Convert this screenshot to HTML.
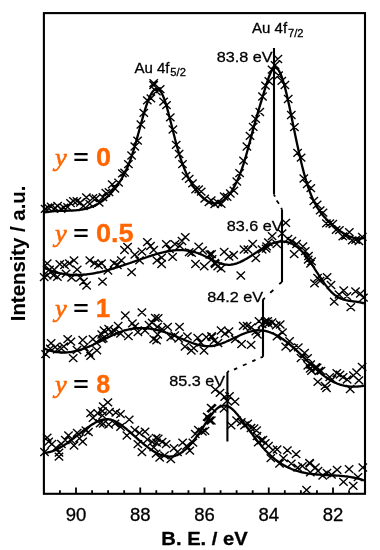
<!DOCTYPE html>
<html><head><meta charset="utf-8"><title>XPS Au 4f</title>
<style>html,body{margin:0;padding:0;background:#fff;width:380px;height:550px;overflow:hidden}svg{display:block}</style>
</head><body>
<svg width="380" height="550" viewBox="0 0 380 550"><path d="M40.9,205.0L49.3,212.8M40.9,212.8L49.3,205.0M43.7,203.6L52.1,211.4M43.7,211.4L52.1,203.6M46.9,202.7L55.3,210.5M46.9,210.5L55.3,202.7M50.8,203.9L59.2,211.7M50.8,211.7L59.2,203.9M53.4,202.1L61.8,209.9M53.4,209.9L61.8,202.1M56.9,205.0L65.3,212.8M56.9,212.8L65.3,205.0M59.7,203.7L68.1,211.5M59.7,211.5L68.1,203.7M63.4,203.2L71.8,211.0M63.4,211.0L71.8,203.2M66.3,199.2L74.7,207.0M66.3,207.0L74.7,199.2M69.2,197.3L77.6,205.1M69.2,205.1L77.6,197.3M72.7,197.2L81.1,205.0M72.7,205.0L81.1,197.2M76.1,198.6L84.5,206.4M76.1,206.4L84.5,198.6M79.1,202.3L87.5,210.1M79.1,210.1L87.5,202.3M82.2,193.5L90.6,201.3M82.2,201.3L90.6,193.5M85.6,200.0L94.0,207.8M85.6,207.8L94.0,200.0M88.7,194.2L97.1,202.0M88.7,202.0L97.1,194.2M91.8,194.4L100.2,202.2M91.8,202.2L100.2,194.4M95.0,198.8L103.4,206.6M95.0,206.6L103.4,198.8M98.7,193.3L107.1,201.1M98.7,201.1L107.1,193.3M101.6,189.0L110.0,196.8M101.6,196.8L110.0,189.0M104.8,188.2L113.2,196.0M104.8,196.0L113.2,188.2M108.0,180.5L116.4,188.3M108.0,188.3L116.4,180.5M110.7,184.8L119.1,192.6M110.7,192.6L119.1,184.8M114.4,178.8L122.8,186.6M114.4,186.6L122.8,178.8M118.2,169.4L126.6,177.2M118.2,177.2L126.6,169.4M120.4,168.8L128.8,176.6M120.4,176.6L128.8,168.8M124.2,160.3L132.6,168.1M124.2,168.1L132.6,160.3M127.4,151.6L135.8,159.4M127.4,159.4L135.8,151.6M130.6,142.6L139.0,150.4M130.6,150.4L139.0,142.6M133.4,136.7L141.8,144.5M133.4,144.5L141.8,136.7M136.7,120.6L145.1,128.4M136.7,128.4L145.1,120.6M139.6,109.0L148.0,116.8M139.6,116.8L148.0,109.0M143.1,96.5L151.5,104.3M143.1,104.3L151.5,96.5M146.7,94.5L155.1,102.3M146.7,102.3L155.1,94.5M149.4,81.3L157.8,89.1M149.4,89.1L157.8,81.3M152.2,87.4L160.6,95.2M152.2,95.2L160.6,87.4M156.0,85.2L164.4,93.0M156.0,93.0L164.4,85.2M159.4,97.7L167.8,105.5M159.4,105.5L167.8,97.7M162.3,101.3L170.7,109.1M162.3,109.1L170.7,101.3M166.1,113.4L174.5,121.2M166.1,121.2L174.5,113.4M168.7,125.6L177.1,133.4M168.7,133.4L177.1,125.6M172.0,140.9L180.4,148.7M172.0,148.7L180.4,140.9M174.9,150.1L183.3,157.9M174.9,157.9L183.3,150.1M178.3,160.2L186.7,168.0M178.3,168.0L186.7,160.2M181.8,172.1L190.2,179.9M181.8,179.9L190.2,172.1M185.0,174.9L193.4,182.7M185.0,182.7L193.4,174.9M188.3,179.5L196.7,187.3M188.3,187.3L196.7,179.5M191.4,185.4L199.8,193.2M191.4,193.2L199.8,185.4M194.5,185.4L202.9,193.2M194.5,193.2L202.9,185.4M197.0,187.7L205.4,195.5M197.0,195.5L205.4,187.7M200.5,194.7L208.9,202.5M200.5,202.5L208.9,194.7M204.7,198.2L213.1,206.0M204.7,206.0L213.1,198.2M207.0,196.4L215.4,204.2M207.0,204.2L215.4,196.4M210.5,200.1L218.9,207.9M210.5,207.9L218.9,200.1M213.5,198.6L221.9,206.4M213.5,206.4L221.9,198.6M217.0,200.0L225.4,207.8M217.0,207.8L225.4,200.0M220.0,192.6L228.4,200.4M220.0,200.4L228.4,192.6M222.9,192.9L231.3,200.7M222.9,200.7L231.3,192.9M226.1,189.6L234.5,197.4M226.1,197.4L234.5,189.6M229.7,186.7L238.1,194.5M229.7,194.5L238.1,186.7M232.6,177.6L241.0,185.4M232.6,185.4L241.0,177.6M235.4,169.3L243.8,177.1M235.4,177.1L243.8,169.3M239.3,156.8L247.7,164.6M239.3,164.6L247.7,156.8M242.7,142.6L251.1,150.4M242.7,150.4L251.1,142.6M245.8,131.9L254.2,139.7M245.8,139.7L254.2,131.9M249.0,123.0L257.4,130.8M249.0,130.8L257.4,123.0M251.5,115.0L259.9,122.8M251.5,122.8L259.9,115.0M255.6,108.1L264.0,115.9M255.6,115.9L264.0,108.1M258.3,92.6L266.7,100.4M258.3,100.4L266.7,92.6M261.3,81.7L269.7,89.5M261.3,89.5L269.7,81.7M264.6,77.2L273.0,85.0M264.6,85.0L273.0,77.2M267.8,65.8L276.2,73.6M267.8,73.6L276.2,65.8M270.8,61.3L279.2,69.1M270.8,69.1L279.2,61.3M274.4,71.4L282.8,79.2M274.4,79.2L282.8,71.4M277.6,77.0L286.0,84.8M277.6,84.8L286.0,77.0M280.7,81.1L289.1,88.9M280.7,88.9L289.1,81.1M284.0,95.1L292.4,102.9M284.0,102.9L292.4,95.1M287.1,111.1L295.5,118.9M287.1,118.9L295.5,111.1M290.2,123.2L298.6,131.0M290.2,131.0L298.6,123.2M293.4,149.0L301.8,156.8M293.4,156.8L301.8,149.0M296.9,153.8L305.3,161.6M296.9,161.6L305.3,153.8M299.6,174.6L308.0,182.4M299.6,182.4L308.0,174.6M303.0,180.2L311.4,188.0M303.0,188.0L311.4,180.2M306.6,184.3L315.0,192.1M306.6,192.1L315.0,184.3M309.6,197.1L318.0,204.9M309.6,204.9L318.0,197.1M312.9,200.8L321.3,208.6M312.9,208.6L321.3,200.8M316.0,206.4L324.4,214.2M316.0,214.2L324.4,206.4M318.8,208.7L327.2,216.5M318.8,216.5L327.2,208.7M322.2,219.4L330.6,227.2M322.2,227.2L330.6,219.4M325.6,219.4L334.0,227.2M325.6,227.2L334.0,219.4M328.6,220.1L337.0,227.9M328.6,227.9L337.0,220.1M331.9,226.0L340.3,233.8M331.9,233.8L340.3,226.0M335.2,226.2L343.6,234.0M335.2,234.0L343.6,226.2M338.6,232.4L347.0,240.2M338.6,240.2L347.0,232.4M341.4,231.9L349.8,239.7M341.4,239.7L349.8,231.9M345.1,228.2L353.5,236.0M345.1,236.0L353.5,228.2M348.0,236.4L356.4,244.2M348.0,244.2L356.4,236.4M351.4,235.9L359.8,243.7M351.4,243.7L359.8,235.9M354.7,237.1L363.1,244.9M354.7,244.9L363.1,237.1M358.1,233.0L366.5,240.8M358.1,240.8L366.5,233.0M273.7,55.1L282.1,62.9M273.7,62.9L282.1,55.1M149.5,79.3L157.9,87.1M149.5,87.1L157.9,79.3M43.0,259.5L51.4,267.3M43.0,267.3L51.4,259.5M45.3,265.8L53.7,273.6M45.3,273.6L53.7,265.8M43.0,271.4L51.4,279.2M43.0,279.2L51.4,271.4M50.1,265.8L58.5,273.6M50.1,273.6L58.5,265.8M49.3,271.4L57.7,279.2M49.3,279.2L57.7,271.4M53.2,273.0L61.6,280.8M53.2,280.8L61.6,273.0M55.6,260.3L64.0,268.1M55.6,268.1L64.0,260.3M60.3,261.1L68.7,268.9M60.3,268.9L68.7,261.1M65.1,259.5L73.5,267.3M65.1,267.3L73.5,259.5M69.8,256.4L78.2,264.2M69.8,264.2L78.2,256.4M61.9,269.8L70.3,277.6M61.9,277.6L70.3,269.8M67.4,273.7L75.8,281.5M67.4,281.5L75.8,273.7M73.0,265.8L81.4,273.6M73.0,273.6L81.4,265.8M76.1,273.7L84.5,281.5M76.1,281.5L84.5,273.7M79.3,277.7L87.7,285.5M79.3,285.5L87.7,277.7M82.4,281.6L90.8,289.4M82.4,289.4L90.8,281.6M85.6,256.4L94.0,264.2M85.6,264.2L94.0,256.4M90.3,259.5L98.7,267.3M90.3,267.3L98.7,259.5M94.3,261.1L102.7,268.9M94.3,268.9L102.7,261.1M98.3,277.7L106.7,285.5M98.3,285.5L106.7,277.7M40.0,273.2L48.4,281.0M40.0,281.0L48.4,273.2M97.4,259.5L105.8,267.3M97.4,267.3L105.8,259.5M103.7,266.6L112.1,274.4M103.7,274.4L112.1,266.6M110.0,259.5L118.4,267.3M110.0,267.3L118.4,259.5M113.2,261.1L121.6,268.9M113.2,268.9L121.6,261.1M117.1,256.4L125.5,264.2M117.1,264.2L125.5,256.4M120.3,246.1L128.7,253.9M120.3,253.9L128.7,246.1M123.4,242.9L131.8,250.7M123.4,250.7L131.8,242.9M127.4,268.2L135.8,276.0M127.4,276.0L135.8,268.2M130.6,250.8L139.0,258.6M130.6,258.6L139.0,250.8M135.3,256.4L143.7,264.2M135.3,264.2L143.7,256.4M137.7,247.7L146.1,255.5M137.7,255.5L146.1,247.7M143.2,238.2L151.6,246.0M143.2,246.0L151.6,238.2M146.3,242.1L154.7,249.9M146.3,249.9L154.7,242.1M149.5,246.1L157.9,253.9M149.5,253.9L157.9,246.1M152.7,256.4L161.1,264.2M152.7,264.2L161.1,256.4M157.4,253.7L165.8,261.5M157.4,261.5L165.8,253.7M157.4,260.1L165.8,267.9M157.4,267.9L165.8,260.1M162.1,240.3L170.5,248.1M162.1,248.1L170.5,240.3M165.3,245.1L173.7,252.9M165.3,252.9L173.7,245.1M170.8,240.3L179.2,248.1M170.8,248.1L179.2,240.3M168.4,253.0L176.8,260.8M168.4,260.8L176.8,253.0M175.5,241.9L183.9,249.7M175.5,249.7L183.9,241.9M177.8,237.1L186.2,244.9M177.8,244.9L186.2,237.1M181.1,233.2L189.5,241.0M181.1,241.0L189.5,233.2M185.0,248.2L193.4,256.0M185.0,256.0L193.4,248.2M187.4,249.0L195.8,256.8M187.4,256.8L195.8,249.0M194.5,242.7L202.9,250.5M194.5,250.5L202.9,242.7M191.3,260.1L199.7,267.9M191.3,267.9L199.7,260.1M198.4,246.6L206.8,254.4M198.4,254.4L206.8,246.6M200.0,262.4L208.4,270.2M200.0,270.2L208.4,262.4M205.6,250.6L214.0,258.4M205.6,258.4L214.0,250.6M207.9,255.3L216.3,263.1M207.9,263.1L216.3,255.3M211.1,260.1L219.5,267.9M211.1,267.9L219.5,260.1M213.5,262.4L221.9,270.2M213.5,270.2L221.9,262.4M207.4,250.3L215.8,258.1M207.4,258.1L215.8,250.3M210.5,259.0L218.9,266.8M210.5,266.8L218.9,259.0M216.9,264.5L225.3,272.3M216.9,272.3L225.3,264.5M220.0,247.9L228.4,255.7M220.0,255.7L228.4,247.9M224.8,252.7L233.2,260.5M224.8,260.5L233.2,252.7M229.5,251.1L237.9,258.9M229.5,258.9L237.9,251.1M236.6,271.6L245.0,279.4M236.6,279.4L245.0,271.6M239.8,245.6L248.2,253.4M239.8,253.4L248.2,245.6M243.7,245.6L252.1,253.4M243.7,253.4L252.1,245.6M248.5,240.1L256.9,247.9M248.5,247.9L256.9,240.1M251.6,254.3L260.0,262.1M251.6,262.1L260.0,254.3M257.9,245.6L266.3,253.4M257.9,253.4L266.3,245.6M261.9,244.8L270.3,252.6M261.9,252.6L270.3,244.8M264.2,238.5L272.6,246.3M264.2,246.3L272.6,238.5M262.4,242.4L270.8,250.2M262.4,250.2L270.8,242.4M267.9,232.2L276.3,240.0M267.9,240.0L276.3,232.2M272.6,240.1L281.0,247.9M272.6,247.9L281.0,240.1M281.6,219.0L290.0,226.8M281.6,226.8L290.0,219.0M277.9,229.5L286.3,237.3M277.9,237.3L286.3,229.5M283.8,235.1L292.2,242.9M283.8,242.9L292.2,235.1M287.7,236.9L296.1,244.7M287.7,244.7L296.1,236.9M290.0,250.3L298.4,258.1M290.0,258.1L298.4,250.3M292.4,240.1L300.8,247.9M292.4,247.9L300.8,240.1M298.7,242.4L307.1,250.2M298.7,250.2L307.1,242.4M301.1,247.2L309.5,255.0M301.1,255.0L309.5,247.2M304.3,252.1L312.7,259.9M304.3,259.9L312.7,252.1M307.4,257.4L315.8,265.2M307.4,265.2L315.8,257.4M304.0,255.8L312.4,263.6M304.0,263.6L312.4,255.8M306.3,259.8L314.7,267.6M306.3,267.6L314.7,259.8M313.4,274.0L321.8,281.8M313.4,281.8L321.8,274.0M310.3,279.5L318.7,287.3M310.3,287.3L318.7,279.5M315.8,277.1L324.2,284.9M315.8,284.9L324.2,277.1M322.9,273.2L331.3,281.0M322.9,281.0L331.3,273.2M326.8,281.1L335.2,288.9M326.8,288.9L335.2,281.1M330.0,297.7L338.4,305.5M330.0,305.5L338.4,297.7M334.8,290.6L343.2,298.4M334.8,298.4L343.2,290.6M339.5,286.6L347.9,294.4M339.5,294.4L347.9,286.6M342.7,292.2L351.1,300.0M342.7,300.0L351.1,292.2M346.6,303.2L355.0,311.0M346.6,311.0L355.0,303.2M351.3,287.4L359.7,295.2M351.3,295.2L359.7,287.4M356.1,289.8L364.5,297.6M356.1,297.6L364.5,289.8M359.3,293.7L367.7,301.5M359.3,301.5L367.7,293.7M41.4,350.3L49.8,358.1M41.4,358.1L49.8,350.3M46.9,339.3L55.3,347.1M46.9,347.1L55.3,339.3M46.1,344.8L54.5,352.6M46.1,352.6L54.5,344.8M50.9,343.2L59.3,351.0M50.9,351.0L59.3,343.2M53.2,345.6L61.6,353.4M53.2,353.4L61.6,345.6M57.2,344.8L65.6,352.6M57.2,352.6L65.6,344.8M59.5,342.4L67.9,350.2M59.5,350.2L67.9,342.4M63.5,335.3L71.9,343.1M63.5,343.1L71.9,335.3M66.7,337.7L75.1,345.5M66.7,345.5L75.1,337.7M69.0,354.3L77.4,362.1M69.0,362.1L77.4,354.3M78.5,336.1L86.9,343.9M78.5,343.9L86.9,336.1M80.1,343.2L88.5,351.0M80.1,351.0L88.5,343.2M84.8,348.7L93.2,356.5M84.8,356.5L93.2,348.7M86.4,351.9L94.8,359.7M86.4,359.7L94.8,351.9M88.8,335.3L97.2,343.1M88.8,343.1L97.2,335.3M91.9,338.5L100.3,346.3M91.9,346.3L100.3,338.5M92.7,346.4L101.1,354.2M92.7,354.2L101.1,346.4M97.5,330.6L105.9,338.4M97.5,338.4L105.9,330.6M99.0,334.5L107.4,342.3M99.0,342.3L107.4,334.5M72.8,346.1L81.2,353.9M72.8,353.9L81.2,346.1M97.4,335.3L105.8,343.1M97.4,343.1L105.8,335.3M99.8,326.6L108.2,334.4M99.8,334.4L108.2,326.6M104.5,325.1L112.9,332.9M104.5,332.9L112.9,325.1M106.9,328.2L115.3,336.0M106.9,336.0L115.3,328.2M110.3,327.1L118.7,334.9M110.3,334.9L118.7,327.1M114.0,321.9L122.4,329.7M114.0,329.7L122.4,321.9M116.3,329.8L124.7,337.6M116.3,337.6L124.7,329.8M121.1,311.6L129.5,319.4M121.1,319.4L129.5,311.6M124.2,332.2L132.6,340.0M124.2,340.0L132.6,332.2M128.2,319.5L136.6,327.3M128.2,327.3L136.6,319.5M130.6,322.7L139.0,330.5M130.6,330.5L139.0,322.7M133.7,328.2L142.1,336.0M133.7,336.0L142.1,328.2M137.7,308.5L146.1,316.3M137.7,316.3L146.1,308.5M140.8,326.6L149.2,334.4M140.8,334.4L149.2,326.6M144.8,321.1L153.2,328.9M144.8,328.9L153.2,321.1M147.9,318.7L156.3,326.5M147.9,326.5L156.3,318.7M151.1,314.0L159.5,321.8M151.1,321.8L159.5,314.0M149.5,335.3L157.9,343.1M149.5,343.1L157.9,335.3M153.5,330.6L161.9,338.4M153.5,338.4L161.9,330.6M154.0,314.3L162.4,322.1M154.0,322.1L162.4,314.3M153.2,322.9L161.6,330.7M153.2,330.7L161.6,322.9M157.9,325.3L166.3,333.1M157.9,333.1L166.3,325.3M163.4,322.9L171.8,330.7M163.4,330.7L171.8,322.9M152.4,336.4L160.8,344.2M152.4,344.2L160.8,336.4M166.6,333.2L175.0,341.0M166.6,341.0L175.0,333.2M170.5,331.6L178.9,339.4M170.5,339.4L178.9,331.6M175.3,322.9L183.7,330.7M175.3,330.7L183.7,322.9M174.5,334.8L182.9,342.6M174.5,342.6L182.9,334.8M183.2,332.4L191.6,340.2M183.2,340.2L191.6,332.4M180.8,342.7L189.2,350.5M180.8,350.5L189.2,342.7M187.1,346.6L195.5,354.4M187.1,354.4L195.5,346.6M189.5,344.3L197.9,352.1M189.5,352.1L197.9,344.3M193.5,334.0L201.9,341.8M193.5,341.8L201.9,334.0M196.6,338.7L205.0,346.5M196.6,346.5L205.0,338.7M199.8,346.6L208.2,354.4M199.8,354.4L208.2,346.6M202.1,333.2L210.5,341.0M202.1,341.0L210.5,333.2M207.7,333.2L216.1,341.0M207.7,341.0L216.1,333.2M207.4,332.2L215.8,340.0M207.4,340.0L215.8,332.2M209.8,336.9L218.2,344.7M209.8,344.7L218.2,336.9M213.8,339.1L222.2,346.9M213.8,346.9L222.2,339.1M216.9,326.6L225.3,334.4M216.9,334.4L225.3,326.6M220.8,329.8L229.2,337.6M220.8,337.6L229.2,329.8M224.8,327.4L233.2,335.2M224.8,335.2L233.2,327.4M231.1,335.3L239.5,343.1M231.1,343.1L239.5,335.3M237.4,340.1L245.8,347.9M237.4,347.9L245.8,340.1M246.9,340.9L255.3,348.7M246.9,348.7L255.3,340.9M239.0,321.9L247.4,329.7M239.0,329.7L247.4,321.9M242.9,321.9L251.3,329.7M242.9,329.7L251.3,321.9M246.9,323.5L255.3,331.3M246.9,331.3L255.3,323.5M251.6,327.4L260.0,335.2M251.6,335.2L260.0,327.4M253.2,330.6L261.6,338.4M253.2,338.4L261.6,330.6M254.8,317.2L263.2,325.0M254.8,325.0L263.2,317.2M257.9,320.3L266.3,328.1M257.9,328.1L266.3,320.3M261.1,318.7L269.5,326.5M261.1,326.5L269.5,318.7M263.5,317.2L271.9,325.0M263.5,325.0L271.9,317.2M261.0,317.4L269.4,325.2M261.0,325.2L269.4,317.4M264.1,319.8L272.5,327.6M264.1,327.6L272.5,319.8M267.8,318.6L276.2,326.4M267.8,326.4L276.2,318.6M272.0,321.4L280.4,329.2M272.0,329.2L280.4,321.4M276.0,320.6L284.4,328.4M276.0,328.4L284.4,320.6M272.8,332.4L281.2,340.2M272.8,340.2L281.2,332.4M278.3,328.5L286.7,336.3M278.3,336.3L286.7,328.5M281.5,342.7L289.9,350.5M281.5,350.5L289.9,342.7M285.4,337.2L293.8,345.0M285.4,345.0L293.8,337.2M289.4,344.3L297.8,352.1M289.4,352.1L297.8,344.3M294.1,343.5L302.5,351.3M294.1,351.3L302.5,343.5M300.4,349.0L308.8,356.8M300.4,356.8L308.8,349.0M303.6,361.6L312.0,369.4M303.6,369.4L312.0,361.6M306.0,364.8L314.4,372.6M306.0,372.6L314.4,364.8M311.5,363.2L319.9,371.0M311.5,371.0L319.9,363.2M314.7,367.1L323.1,374.9M314.7,374.9L323.1,367.1M296.8,354.1L305.2,361.9M296.8,361.9L305.2,354.1M303.4,354.3L311.8,362.1M303.4,362.1L311.8,354.3M306.5,360.6L314.9,368.4M306.5,368.4L314.9,360.6M307.3,366.9L315.7,374.7M307.3,374.7L315.7,366.9M312.9,363.7L321.3,371.5M312.9,371.5L321.3,363.7M316.8,366.9L325.2,374.7M316.8,374.7L325.2,366.9M313.6,378.0L322.0,385.8M313.6,385.8L322.0,378.0M320.8,381.9L329.2,389.7M320.8,389.7L329.2,381.9M322.3,384.3L330.7,392.1M322.3,392.1L330.7,384.3M325.5,373.2L333.9,381.0M325.5,381.0L333.9,373.2M327.9,375.6L336.3,383.4M327.9,383.4L336.3,375.6M332.6,369.3L341.0,377.1M332.6,377.1L341.0,369.3M335.8,370.8L344.2,378.6M335.8,378.6L344.2,370.8M338.9,373.2L347.3,381.0M338.9,381.0L347.3,373.2M342.9,375.6L351.3,383.4M342.9,383.4L351.3,375.6M346.0,385.1L354.4,392.9M346.0,392.9L354.4,385.1M349.2,371.6L357.6,379.4M349.2,379.4L357.6,371.6M352.4,368.5L360.8,376.3M352.4,376.3L360.8,368.5M354.7,376.4L363.1,384.2M354.7,384.2L363.1,376.4M357.9,362.9L366.3,370.7M357.9,370.7L366.3,362.9M43.0,433.7L51.4,441.5M43.0,441.5L51.4,433.7M44.5,437.7L52.9,445.5M44.5,445.5L52.9,437.7M47.7,440.1L56.1,447.9M47.7,447.9L56.1,440.1M51.6,444.0L60.0,451.8M51.6,451.8L60.0,444.0M54.8,448.7L63.2,456.5M54.8,456.5L63.2,448.7M54.8,452.7L63.2,460.5M54.8,460.5L63.2,452.7M57.2,440.1L65.6,447.9M57.2,447.9L65.6,440.1M61.1,436.1L69.5,443.9M61.1,443.9L69.5,436.1M64.3,431.4L72.7,439.2M64.3,439.2L72.7,431.4M66.8,436.1L75.2,443.9M66.8,443.9L75.2,436.1M69.8,441.6L78.2,449.4M69.8,449.4L78.2,441.6M73.0,429.0L81.4,436.8M73.0,436.8L81.4,429.0M75.3,434.5L83.7,442.3M75.3,442.3L83.7,434.5M78.5,437.7L86.9,445.5M78.5,445.5L86.9,437.7M81.7,426.6L90.1,434.4M81.7,434.4L90.1,426.6M84.3,428.1L92.7,435.9M84.3,435.9L92.7,428.1M86.4,409.3L94.8,417.1M86.4,417.1L94.8,409.3M88.8,414.0L97.2,421.8M88.8,421.8L97.2,414.0M93.5,409.3L101.9,417.1M93.5,417.1L101.9,409.3M95.9,419.5L104.3,427.3M95.9,427.3L104.3,419.5M98.3,411.6L106.7,419.4M98.3,419.4L106.7,411.6M40.3,448.1L48.7,455.9M40.3,455.9L48.7,448.1M103.7,398.5L112.1,406.3M103.7,406.3L112.1,398.5M99.0,402.4L107.4,410.2M99.0,410.2L107.4,402.4M98.2,407.2L106.6,415.0M98.2,415.0L106.6,407.2M105.3,407.9L113.7,415.7M105.3,415.7L113.7,407.9M111.6,408.7L120.0,416.5M111.6,416.5L120.0,408.7M116.3,410.3L124.7,418.1M116.3,418.1L124.7,410.3M99.0,419.8L107.4,427.6M99.0,427.6L107.4,419.8M104.5,420.6L112.9,428.4M104.5,428.4L112.9,420.6M110.8,419.8L119.2,427.6M110.8,427.6L119.2,419.8M116.3,422.9L124.7,430.7M116.3,430.7L124.7,422.9M125.0,415.8L133.4,423.6M125.0,423.6L133.4,415.8M122.7,431.6L131.1,439.4M122.7,439.4L131.1,431.6M130.6,426.1L139.0,433.9M130.6,433.9L139.0,426.1M135.3,429.1L143.7,436.9M135.3,436.9L143.7,429.1M140.8,427.7L149.2,435.5M140.8,435.5L149.2,427.7M133.7,440.3L142.1,448.1M133.7,448.1L142.1,440.3M137.7,448.2L146.1,456.0M137.7,456.0L146.1,448.2M143.2,435.6L151.6,443.4M143.2,443.4L151.6,435.6M147.9,438.0L156.3,445.8M147.9,445.8L156.3,438.0M151.9,434.0L160.3,441.8M151.9,441.8L160.3,434.0M149.5,443.5L157.9,451.3M149.5,451.3L157.9,443.5M151.9,449.8L160.3,457.6M151.9,457.6L160.3,449.8M154.0,434.8L162.4,442.6M154.0,442.6L162.4,434.8M152.4,438.8L160.8,446.6M152.4,446.6L160.8,438.8M157.9,438.0L166.3,445.8M157.9,445.8L166.3,438.0M161.9,440.3L170.3,448.1M161.9,448.1L170.3,440.3M155.5,453.8L163.9,461.6M155.5,461.6L163.9,453.8M160.3,451.4L168.7,459.2M160.3,459.2L168.7,451.4M166.6,455.3L175.0,463.1M166.6,463.1L175.0,455.3M169.8,444.3L178.2,452.1M169.8,452.1L178.2,444.3M173.3,448.1L181.7,455.9M173.3,455.9L181.7,448.1M178.4,438.8L186.8,446.6M178.4,446.6L186.8,438.8M182.4,441.9L190.8,449.7M182.4,449.7L190.8,441.9M185.6,446.7L194.0,454.5M185.6,454.5L194.0,446.7M188.7,438.8L197.1,446.6M188.7,446.6L197.1,438.8M191.1,430.1L199.5,437.9M191.1,437.9L199.5,430.1M194.2,426.1L202.6,433.9M194.2,433.9L202.6,426.1M198.2,427.7L206.6,435.5M198.2,435.5L206.6,427.7M202.9,412.7L211.3,420.5M202.9,420.5L211.3,412.7M205.3,416.6L213.7,424.4M205.3,424.4L213.7,416.6M206.9,404.0L215.3,411.8M206.9,411.8L215.3,404.0M211.1,385.8L219.5,393.6M211.1,393.6L219.5,385.8M215.8,389.0L224.2,396.8M215.8,396.8L224.2,389.0M220.5,392.9L228.9,400.7M220.5,400.7L228.9,392.9M225.3,392.2L233.7,400.0M225.3,400.0L233.7,392.2M222.9,396.9L231.3,404.7M222.9,404.7L231.3,396.9M230.8,397.7L239.2,405.5M230.8,405.5L239.2,397.7M219.8,404.8L228.2,412.6M219.8,412.6L228.2,404.8M207.9,404.8L216.3,412.6M207.9,412.6L216.3,404.8M204.0,413.5L212.4,421.3M204.0,421.3L212.4,413.5M207.1,416.6L215.5,424.4M207.1,424.4L215.5,416.6M200.8,426.9L209.2,434.7M200.8,434.7L209.2,426.9M226.9,421.4L235.3,429.2M226.9,429.2L235.3,421.4M232.4,416.6L240.8,424.4M232.4,424.4L240.8,416.6M237.1,418.2L245.5,426.0M237.1,426.0L245.5,418.2M240.3,421.4L248.7,429.2M240.3,429.2L248.7,421.4M243.5,419.8L251.9,427.6M243.5,427.6L251.9,419.8M246.8,424.1L255.2,431.9M246.8,431.9L255.2,424.1M249.8,424.5L258.2,432.3M249.8,432.3L258.2,424.5M252.8,432.1L261.2,439.9M252.8,439.9L261.2,432.1M256.9,436.4L265.3,444.2M256.9,444.2L265.3,436.4M252.4,426.6L260.8,434.4M252.4,434.4L260.8,426.6M254.0,438.5L262.4,446.3M254.0,446.3L262.4,438.5M258.7,436.1L267.1,443.9M258.7,443.9L267.1,436.1M261.1,439.3L269.5,447.1M261.1,447.1L269.5,439.3M264.3,442.1L272.7,449.9M264.3,449.9L272.7,442.1M266.6,454.3L275.0,462.1M266.6,462.1L275.0,454.3M268.8,446.1L277.2,453.9M268.8,453.9L277.2,446.1M272.9,445.6L281.3,453.4M272.9,453.4L281.3,445.6M275.3,459.8L283.7,467.6M275.3,467.6L283.7,459.8M279.2,454.3L287.6,462.1M279.2,462.1L287.6,454.3M283.2,446.4L291.6,454.2M283.2,454.2L291.6,446.4M287.1,459.8L295.5,467.6M287.1,467.6L295.5,459.8M291.9,450.3L300.3,458.1M291.9,458.1L300.3,450.3M293.5,463.8L301.9,471.6M293.5,471.6L301.9,463.8M298.2,462.2L306.6,470.0M298.2,470.0L306.6,462.2M305.3,459.0L313.7,466.8M305.3,466.8L313.7,459.0M306.1,468.5L314.5,476.3M306.1,476.3L314.5,468.5M305.6,459.6L314.0,467.4M305.6,467.4L314.0,459.6M311.2,463.6L319.6,471.4M311.2,471.4L319.6,463.6M313.8,467.1L322.2,474.9M313.8,474.9L322.2,467.1M318.5,471.6L326.9,479.4M318.5,479.4L326.9,471.6M322.8,469.1L331.2,476.9M322.8,476.9L331.2,469.1M327.3,470.8L335.7,478.6M327.3,478.6L335.7,470.8M332.9,466.0L341.3,473.8M332.9,473.8L341.3,466.0M339.3,478.0L347.7,485.8M339.3,485.8L347.7,478.0M344.9,465.2L353.3,473.0M344.9,473.0L353.3,465.2M349.0,482.0L357.4,489.8M349.0,489.8L357.4,482.0M353.8,473.2L362.2,481.0M353.8,481.0L362.2,473.2M358.6,463.6L367.0,471.4M358.6,471.4L367.0,463.6M302.4,486.1L310.8,493.9M302.4,493.9L310.8,486.1" fill="none" stroke="#000" stroke-width="1.4"/><path d="M44.0,212.6 L45.0,212.4 L46.0,212.2 L47.0,212.0 L48.0,211.9 L49.0,211.7 L50.0,211.6 L51.0,211.5 L52.0,211.4 L53.0,211.3 L54.0,211.2 L55.0,211.1 L56.0,211.1 L57.0,211.0 L58.0,211.0 L59.0,210.9 L60.0,210.9 L61.0,210.9 L62.0,210.9 L63.0,210.8 L64.0,210.8 L65.0,210.8 L66.0,210.8 L67.0,210.7 L68.0,210.7 L69.0,210.7 L70.0,210.6 L71.0,210.6 L72.0,210.6 L73.0,210.5 L74.0,210.4 L75.0,210.4 L76.0,210.3 L77.0,210.2 L78.0,210.1 L79.0,210.0 L80.0,209.8 L81.0,209.7 L82.0,209.5 L83.0,209.3 L84.0,209.1 L85.0,208.9 L86.0,208.6 L87.0,208.4 L88.0,208.1 L89.0,207.8 L90.0,207.5 L91.0,207.1 L92.0,206.7 L93.0,206.3 L94.0,205.9 L95.0,205.4 L96.0,204.9 L97.0,204.4 L98.0,203.8 L99.0,203.2 L100.0,202.6 L101.0,201.9 L102.0,201.2 L103.0,200.5 L104.0,199.7 L105.0,198.9 L106.0,198.0 L107.0,197.1 L108.0,196.2 L109.0,195.2 L110.0,194.2 L111.0,193.1 L112.0,192.0 L113.0,190.9 L114.0,189.6 L115.0,188.4 L116.0,187.1 L117.0,185.7 L118.0,184.3 L119.0,182.9 L120.0,181.3 L121.0,179.8 L122.0,178.1 L123.0,176.3 L124.0,174.5 L125.0,172.5 L126.0,170.5 L127.0,168.3 L128.0,166.0 L129.0,163.5 L130.0,160.9 L131.0,158.2 L132.0,155.2 L133.0,152.1 L134.0,148.9 L135.0,145.5 L136.0,142.0 L137.0,138.4 L138.0,134.8 L139.0,131.2 L140.0,127.5 L141.0,123.8 L142.0,120.2 L143.0,116.6 L144.0,113.1 L145.0,109.8 L146.0,106.7 L147.0,103.7 L148.0,101.0 L149.0,98.5 L150.0,96.2 L151.0,94.3 L152.0,92.6 L153.0,91.2 L154.0,90.1 L155.0,89.4 L156.0,88.9 L157.0,88.8 L158.0,89.1 L159.0,89.7 L160.0,90.7 L161.0,92.0 L162.0,93.7 L163.0,95.9 L164.0,98.4 L165.0,101.2 L166.0,104.4 L167.0,107.8 L168.0,111.4 L169.0,115.2 L170.0,119.0 L171.0,123.0 L172.0,127.0 L173.0,131.0 L174.0,135.0 L175.0,139.0 L176.0,142.8 L177.0,146.5 L178.0,150.0 L179.0,153.4 L180.0,156.6 L181.0,159.6 L182.0,162.5 L183.0,165.2 L184.0,167.8 L185.0,170.3 L186.0,172.6 L187.0,174.8 L188.0,176.9 L189.0,178.9 L190.0,180.7 L191.0,182.5 L192.0,184.2 L193.0,185.8 L194.0,187.3 L195.0,188.7 L196.0,190.1 L197.0,191.4 L198.0,192.7 L199.0,193.8 L200.0,195.0 L201.0,196.0 L202.0,197.0 L203.0,197.9 L204.0,198.8 L205.0,199.6 L206.0,200.3 L207.0,200.9 L208.0,201.5 L209.0,202.0 L210.0,202.4 L211.0,202.8 L212.0,203.0 L213.0,203.2 L214.0,203.3 L215.0,203.3 L216.0,203.3 L217.0,203.2 L218.0,202.9 L219.0,202.6 L220.0,202.3 L221.0,201.8 L222.0,201.2 L223.0,200.6 L224.0,199.8 L225.0,199.0 L226.0,198.1 L227.0,197.1 L228.0,196.0 L229.0,194.8 L230.0,193.5 L231.0,192.1 L232.0,190.6 L233.0,188.9 L234.0,187.2 L235.0,185.3 L236.0,183.3 L237.0,181.2 L238.0,179.0 L239.0,176.6 L240.0,174.1 L241.0,171.4 L242.0,168.6 L243.0,165.6 L244.0,162.5 L245.0,159.2 L246.0,155.8 L247.0,152.3 L248.0,148.6 L249.0,144.9 L250.0,141.1 L251.0,137.4 L252.0,133.6 L253.0,129.9 L254.0,126.3 L255.0,122.6 L256.0,119.1 L257.0,115.6 L258.0,112.1 L259.0,108.7 L260.0,105.4 L261.0,102.1 L262.0,98.8 L263.0,95.5 L264.0,92.2 L265.0,88.9 L266.0,85.6 L267.0,82.5 L268.0,79.5 L269.0,76.7 L270.0,74.2 L271.0,72.0 L272.0,70.2 L273.0,68.9 L274.0,68.0 L275.0,67.7 L276.0,67.8 L277.0,68.4 L278.0,69.4 L279.0,70.9 L280.0,72.8 L281.0,75.0 L282.0,77.7 L283.0,80.7 L284.0,84.0 L285.0,87.7 L286.0,91.6 L287.0,95.8 L288.0,100.2 L289.0,104.8 L290.0,109.5 L291.0,114.4 L292.0,119.3 L293.0,124.2 L294.0,129.1 L295.0,134.0 L296.0,138.8 L297.0,143.5 L298.0,148.1 L299.0,152.6 L300.0,157.0 L301.0,161.3 L302.0,165.4 L303.0,169.4 L304.0,173.2 L305.0,176.8 L306.0,180.3 L307.0,183.5 L308.0,186.6 L309.0,189.5 L310.0,192.2 L311.0,194.7 L312.0,197.1 L313.0,199.4 L314.0,201.5 L315.0,203.5 L316.0,205.3 L317.0,207.0 L318.0,208.7 L319.0,210.2 L320.0,211.6 L321.0,213.0 L322.0,214.2 L323.0,215.4 L324.0,216.6 L325.0,217.6 L326.0,218.7 L327.0,219.7 L328.0,220.7 L329.0,221.6 L330.0,222.6 L331.0,223.5 L332.0,224.4 L333.0,225.3 L334.0,226.2 L335.0,227.0 L336.0,227.8 L337.0,228.7 L338.0,229.4 L339.0,230.2 L340.0,231.0 L341.0,231.7 L342.0,232.3 L343.0,233.0 L344.0,233.6 L345.0,234.2 L346.0,234.8 L347.0,235.3 L348.0,235.8 L349.0,236.3 L350.0,236.7 L351.0,237.0 L352.0,237.4 L353.0,237.7 L354.0,237.9 L355.0,238.1 L356.0,238.3 L357.0,238.4 L358.0,238.5 L359.0,238.5 L360.0,238.5 L361.0,238.4 L362.0,238.3 L363.0,238.1 L364.0,237.9" fill="none" stroke="#000" stroke-width="2.3" stroke-linejoin="round"/><path d="M44.0,267.6 L45.0,268.1 L46.0,268.6 L47.0,269.0 L48.0,269.4 L49.0,269.9 L50.0,270.3 L51.0,270.6 L52.0,271.0 L53.0,271.3 L54.0,271.7 L55.0,272.0 L56.0,272.3 L57.0,272.5 L58.0,272.8 L59.0,273.0 L60.0,273.3 L61.0,273.5 L62.0,273.7 L63.0,273.9 L64.0,274.0 L65.0,274.2 L66.0,274.3 L67.0,274.5 L68.0,274.6 L69.0,274.7 L70.0,274.8 L71.0,274.8 L72.0,274.9 L73.0,274.9 L74.0,275.0 L75.0,275.0 L76.0,275.0 L77.0,275.0 L78.0,275.0 L79.0,275.0 L80.0,274.9 L81.0,274.9 L82.0,274.8 L83.0,274.7 L84.0,274.7 L85.0,274.6 L86.0,274.5 L87.0,274.3 L88.0,274.2 L89.0,274.1 L90.0,273.9 L91.0,273.8 L92.0,273.6 L93.0,273.5 L94.0,273.3 L95.0,273.1 L96.0,272.9 L97.0,272.7 L98.0,272.5 L99.0,272.3 L100.0,272.1 L101.0,271.8 L102.0,271.6 L103.0,271.3 L104.0,271.1 L105.0,270.8 L106.0,270.6 L107.0,270.3 L108.0,270.0 L109.0,269.8 L110.0,269.5 L111.0,269.2 L112.0,268.9 L113.0,268.6 L114.0,268.3 L115.0,268.0 L116.0,267.7 L117.0,267.3 L118.0,267.0 L119.0,266.7 L120.0,266.4 L121.0,266.0 L122.0,265.7 L123.0,265.4 L124.0,265.0 L125.0,264.7 L126.0,264.3 L127.0,264.0 L128.0,263.7 L129.0,263.3 L130.0,263.0 L131.0,262.6 L132.0,262.3 L133.0,261.9 L134.0,261.6 L135.0,261.2 L136.0,260.9 L137.0,260.5 L138.0,260.2 L139.0,259.8 L140.0,259.5 L141.0,259.1 L142.0,258.8 L143.0,258.4 L144.0,258.1 L145.0,257.8 L146.0,257.4 L147.0,257.1 L148.0,256.7 L149.0,256.4 L150.0,256.1 L151.0,255.8 L152.0,255.4 L153.0,255.1 L154.0,254.8 L155.0,254.5 L156.0,254.2 L157.0,253.9 L158.0,253.7 L159.0,253.4 L160.0,253.1 L161.0,252.8 L162.0,252.6 L163.0,252.4 L164.0,252.1 L165.0,251.9 L166.0,251.7 L167.0,251.5 L168.0,251.3 L169.0,251.1 L170.0,251.0 L171.0,250.8 L172.0,250.7 L173.0,250.5 L174.0,250.4 L175.0,250.3 L176.0,250.2 L177.0,250.2 L178.0,250.1 L179.0,250.1 L180.0,250.1 L181.0,250.1 L182.0,250.1 L183.0,250.1 L184.0,250.2 L185.0,250.3 L186.0,250.4 L187.0,250.5 L188.0,250.6 L189.0,250.8 L190.0,250.9 L191.0,251.1 L192.0,251.3 L193.0,251.6 L194.0,251.9 L195.0,252.1 L196.0,252.5 L197.0,252.8 L198.0,253.2 L199.0,253.5 L200.0,253.9 L201.0,254.4 L202.0,254.8 L203.0,255.3 L204.0,255.8 L205.0,256.2 L206.0,256.7 L207.0,257.2 L208.0,257.7 L209.0,258.2 L210.0,258.8 L211.0,259.2 L212.0,259.7 L213.0,260.2 L214.0,260.7 L215.0,261.2 L216.0,261.6 L217.0,262.0 L218.0,262.4 L219.0,262.8 L220.0,263.2 L221.0,263.5 L222.0,263.8 L223.0,264.0 L224.0,264.3 L225.0,264.5 L226.0,264.6 L227.0,264.7 L228.0,264.8 L229.0,264.8 L230.0,264.8 L231.0,264.7 L232.0,264.5 L233.0,264.4 L234.0,264.2 L235.0,263.9 L236.0,263.6 L237.0,263.3 L238.0,262.9 L239.0,262.5 L240.0,262.1 L241.0,261.6 L242.0,261.1 L243.0,260.6 L244.0,260.1 L245.0,259.5 L246.0,259.0 L247.0,258.4 L248.0,257.8 L249.0,257.2 L250.0,256.5 L251.0,255.9 L252.0,255.2 L253.0,254.6 L254.0,253.9 L255.0,253.3 L256.0,252.6 L257.0,252.0 L258.0,251.3 L259.0,250.6 L260.0,250.0 L261.0,249.4 L262.0,248.8 L263.0,248.1 L264.0,247.6 L265.0,247.0 L266.0,246.4 L267.0,245.9 L268.0,245.4 L269.0,244.9 L270.0,244.4 L271.0,244.0 L272.0,243.6 L273.0,243.2 L274.0,242.9 L275.0,242.6 L276.0,242.3 L277.0,242.1 L278.0,241.9 L279.0,241.7 L280.0,241.6 L281.0,241.6 L282.0,241.5 L283.0,241.6 L284.0,241.6 L285.0,241.7 L286.0,241.9 L287.0,242.1 L288.0,242.3 L289.0,242.6 L290.0,243.0 L291.0,243.4 L292.0,243.8 L293.0,244.3 L294.0,244.9 L295.0,245.5 L296.0,246.2 L297.0,246.9 L298.0,247.7 L299.0,248.5 L300.0,249.5 L301.0,250.4 L302.0,251.5 L303.0,252.5 L304.0,253.7 L305.0,254.9 L306.0,256.2 L307.0,257.5 L308.0,258.9 L309.0,260.3 L310.0,261.7 L311.0,263.2 L312.0,264.7 L313.0,266.2 L314.0,267.7 L315.0,269.3 L316.0,270.8 L317.0,272.4 L318.0,273.9 L319.0,275.5 L320.0,277.0 L321.0,278.5 L322.0,280.0 L323.0,281.5 L324.0,282.9 L325.0,284.3 L326.0,285.6 L327.0,286.9 L328.0,288.2 L329.0,289.4 L330.0,290.5 L331.0,291.6 L332.0,292.6 L333.0,293.5 L334.0,294.3 L335.0,295.1 L336.0,295.8 L337.0,296.5 L338.0,297.1 L339.0,297.6 L340.0,298.1 L341.0,298.6 L342.0,299.0 L343.0,299.3 L344.0,299.6 L345.0,299.9 L346.0,300.2 L347.0,300.4 L348.0,300.6 L349.0,300.8 L350.0,300.9 L351.0,301.1 L352.0,301.2 L353.0,301.4 L354.0,301.5 L355.0,301.6 L356.0,301.7 L357.0,301.9 L358.0,302.0 L359.0,302.2 L360.0,302.4 L361.0,302.5 L362.0,302.8 L363.0,303.0 L364.0,303.3" fill="none" stroke="#000" stroke-width="2.3" stroke-linejoin="round"/><path d="M44.0,348.5 L45.0,348.9 L46.0,349.3 L47.0,349.7 L48.0,350.0 L49.0,350.3 L50.0,350.6 L51.0,350.9 L52.0,351.2 L53.0,351.4 L54.0,351.6 L55.0,351.8 L56.0,352.0 L57.0,352.1 L58.0,352.2 L59.0,352.3 L60.0,352.4 L61.0,352.5 L62.0,352.5 L63.0,352.5 L64.0,352.5 L65.0,352.5 L66.0,352.5 L67.0,352.4 L68.0,352.3 L69.0,352.2 L70.0,352.1 L71.0,352.0 L72.0,351.8 L73.0,351.6 L74.0,351.4 L75.0,351.2 L76.0,351.0 L77.0,350.7 L78.0,350.5 L79.0,350.2 L80.0,349.9 L81.0,349.6 L82.0,349.3 L83.0,348.9 L84.0,348.6 L85.0,348.2 L86.0,347.8 L87.0,347.4 L88.0,347.0 L89.0,346.6 L90.0,346.1 L91.0,345.7 L92.0,345.2 L93.0,344.8 L94.0,344.3 L95.0,343.8 L96.0,343.3 L97.0,342.9 L98.0,342.4 L99.0,341.9 L100.0,341.4 L101.0,340.9 L102.0,340.4 L103.0,339.9 L104.0,339.4 L105.0,338.9 L106.0,338.4 L107.0,337.9 L108.0,337.4 L109.0,336.9 L110.0,336.4 L111.0,336.0 L112.0,335.5 L113.0,335.0 L114.0,334.6 L115.0,334.1 L116.0,333.7 L117.0,333.3 L118.0,332.9 L119.0,332.5 L120.0,332.1 L121.0,331.7 L122.0,331.4 L123.0,331.0 L124.0,330.7 L125.0,330.4 L126.0,330.1 L127.0,329.8 L128.0,329.6 L129.0,329.3 L130.0,329.1 L131.0,328.9 L132.0,328.8 L133.0,328.6 L134.0,328.5 L135.0,328.4 L136.0,328.3 L137.0,328.2 L138.0,328.1 L139.0,328.1 L140.0,328.1 L141.0,328.0 L142.0,328.1 L143.0,328.1 L144.0,328.1 L145.0,328.2 L146.0,328.3 L147.0,328.3 L148.0,328.4 L149.0,328.6 L150.0,328.7 L151.0,328.8 L152.0,329.0 L153.0,329.2 L154.0,329.4 L155.0,329.6 L156.0,329.8 L157.0,330.0 L158.0,330.2 L159.0,330.5 L160.0,330.8 L161.0,331.0 L162.0,331.3 L163.0,331.6 L164.0,331.9 L165.0,332.2 L166.0,332.6 L167.0,332.9 L168.0,333.3 L169.0,333.6 L170.0,334.0 L171.0,334.4 L172.0,334.7 L173.0,335.1 L174.0,335.5 L175.0,335.9 L176.0,336.3 L177.0,336.8 L178.0,337.2 L179.0,337.6 L180.0,338.0 L181.0,338.5 L182.0,338.9 L183.0,339.3 L184.0,339.7 L185.0,340.2 L186.0,340.6 L187.0,341.0 L188.0,341.4 L189.0,341.8 L190.0,342.2 L191.0,342.5 L192.0,342.9 L193.0,343.2 L194.0,343.6 L195.0,343.9 L196.0,344.2 L197.0,344.5 L198.0,344.8 L199.0,345.0 L200.0,345.2 L201.0,345.4 L202.0,345.6 L203.0,345.8 L204.0,345.9 L205.0,346.0 L206.0,346.1 L207.0,346.2 L208.0,346.2 L209.0,346.2 L210.0,346.2 L211.0,346.1 L212.0,346.0 L213.0,345.8 L214.0,345.7 L215.0,345.5 L216.0,345.2 L217.0,345.0 L218.0,344.7 L219.0,344.4 L220.0,344.1 L221.0,343.7 L222.0,343.4 L223.0,343.0 L224.0,342.6 L225.0,342.2 L226.0,341.8 L227.0,341.3 L228.0,340.9 L229.0,340.4 L230.0,340.0 L231.0,339.5 L232.0,339.0 L233.0,338.5 L234.0,338.1 L235.0,337.6 L236.0,337.1 L237.0,336.7 L238.0,336.2 L239.0,335.7 L240.0,335.3 L241.0,334.8 L242.0,334.4 L243.0,334.0 L244.0,333.6 L245.0,333.2 L246.0,332.8 L247.0,332.5 L248.0,332.2 L249.0,331.9 L250.0,331.6 L251.0,331.3 L252.0,331.1 L253.0,330.9 L254.0,330.7 L255.0,330.5 L256.0,330.4 L257.0,330.3 L258.0,330.3 L259.0,330.3 L260.0,330.3 L261.0,330.4 L262.0,330.5 L263.0,330.6 L264.0,330.7 L265.0,330.9 L266.0,331.1 L267.0,331.4 L268.0,331.7 L269.0,332.0 L270.0,332.3 L271.0,332.7 L272.0,333.1 L273.0,333.5 L274.0,334.0 L275.0,334.5 L276.0,335.0 L277.0,335.5 L278.0,336.1 L279.0,336.7 L280.0,337.3 L281.0,337.9 L282.0,338.6 L283.0,339.3 L284.0,340.0 L285.0,340.7 L286.0,341.4 L287.0,342.2 L288.0,343.0 L289.0,343.8 L290.0,344.6 L291.0,345.5 L292.0,346.3 L293.0,347.2 L294.0,348.1 L295.0,349.0 L296.0,350.0 L297.0,350.9 L298.0,351.8 L299.0,352.8 L300.0,353.7 L301.0,354.7 L302.0,355.7 L303.0,356.7 L304.0,357.6 L305.0,358.6 L306.0,359.6 L307.0,360.6 L308.0,361.5 L309.0,362.5 L310.0,363.5 L311.0,364.5 L312.0,365.4 L313.0,366.4 L314.0,367.3 L315.0,368.2 L316.0,369.1 L317.0,370.0 L318.0,370.9 L319.0,371.8 L320.0,372.6 L321.0,373.5 L322.0,374.3 L323.0,375.1 L324.0,375.9 L325.0,376.6 L326.0,377.3 L327.0,378.0 L328.0,378.7 L329.0,379.3 L330.0,379.9 L331.0,380.5 L332.0,381.1 L333.0,381.6 L334.0,382.1 L335.0,382.6 L336.0,383.0 L337.0,383.5 L338.0,383.9 L339.0,384.2 L340.0,384.6 L341.0,384.9 L342.0,385.2 L343.0,385.4 L344.0,385.7 L345.0,385.9 L346.0,386.1 L347.0,386.2 L348.0,386.4 L349.0,386.5 L350.0,386.6 L351.0,386.7 L352.0,386.7 L353.0,386.7 L354.0,386.7 L355.0,386.7 L356.0,386.7 L357.0,386.6 L358.0,386.5 L359.0,386.4 L360.0,386.3 L361.0,386.2 L362.0,386.0 L363.0,385.8 L364.0,385.6" fill="none" stroke="#000" stroke-width="2.3" stroke-linejoin="round"/><path d="M44.0,452.9 L45.0,452.8 L46.0,452.7 L47.0,452.6 L48.0,452.4 L49.0,452.2 L50.0,452.0 L51.0,451.7 L52.0,451.4 L53.0,451.0 L54.0,450.6 L55.0,450.2 L56.0,449.7 L57.0,449.3 L58.0,448.7 L59.0,448.2 L60.0,447.7 L61.0,447.1 L62.0,446.5 L63.0,445.8 L64.0,445.2 L65.0,444.5 L66.0,443.9 L67.0,443.2 L68.0,442.5 L69.0,441.7 L70.0,441.0 L71.0,440.3 L72.0,439.5 L73.0,438.7 L74.0,438.0 L75.0,437.2 L76.0,436.4 L77.0,435.6 L78.0,434.9 L79.0,434.1 L80.0,433.3 L81.0,432.5 L82.0,431.8 L83.0,431.0 L84.0,430.2 L85.0,429.5 L86.0,428.8 L87.0,428.0 L88.0,427.3 L89.0,426.6 L90.0,425.9 L91.0,425.2 L92.0,424.6 L93.0,424.0 L94.0,423.4 L95.0,422.8 L96.0,422.3 L97.0,421.8 L98.0,421.3 L99.0,420.9 L100.0,420.5 L101.0,420.1 L102.0,419.8 L103.0,419.6 L104.0,419.4 L105.0,419.3 L106.0,419.2 L107.0,419.2 L108.0,419.2 L109.0,419.3 L110.0,419.5 L111.0,419.7 L112.0,420.0 L113.0,420.4 L114.0,420.8 L115.0,421.2 L116.0,421.7 L117.0,422.3 L118.0,422.9 L119.0,423.5 L120.0,424.1 L121.0,424.8 L122.0,425.5 L123.0,426.3 L124.0,427.1 L125.0,427.9 L126.0,428.7 L127.0,429.5 L128.0,430.4 L129.0,431.2 L130.0,432.1 L131.0,433.0 L132.0,433.9 L133.0,434.8 L134.0,435.7 L135.0,436.5 L136.0,437.4 L137.0,438.3 L138.0,439.2 L139.0,440.1 L140.0,440.9 L141.0,441.8 L142.0,442.6 L143.0,443.5 L144.0,444.3 L145.0,445.1 L146.0,445.9 L147.0,446.7 L148.0,447.4 L149.0,448.2 L150.0,448.9 L151.0,449.6 L152.0,450.2 L153.0,450.9 L154.0,451.5 L155.0,452.1 L156.0,452.6 L157.0,453.2 L158.0,453.7 L159.0,454.1 L160.0,454.6 L161.0,454.9 L162.0,455.3 L163.0,455.6 L164.0,455.9 L165.0,456.1 L166.0,456.3 L167.0,456.4 L168.0,456.5 L169.0,456.6 L170.0,456.6 L171.0,456.5 L172.0,456.4 L173.0,456.3 L174.0,456.1 L175.0,455.8 L176.0,455.5 L177.0,455.1 L178.0,454.6 L179.0,454.1 L180.0,453.6 L181.0,452.9 L182.0,452.2 L183.0,451.5 L184.0,450.7 L185.0,449.9 L186.0,449.0 L187.0,448.0 L188.0,447.0 L189.0,445.9 L190.0,444.9 L191.0,443.7 L192.0,442.5 L193.0,441.3 L194.0,440.1 L195.0,438.8 L196.0,437.4 L197.0,436.1 L198.0,434.7 L199.0,433.3 L200.0,431.8 L201.0,430.4 L202.0,428.9 L203.0,427.3 L204.0,425.8 L205.0,424.2 L206.0,422.7 L207.0,421.2 L208.0,419.7 L209.0,418.2 L210.0,416.7 L211.0,415.3 L212.0,414.0 L213.0,412.7 L214.0,411.6 L215.0,410.5 L216.0,409.5 L217.0,408.6 L218.0,407.8 L219.0,407.1 L220.0,406.6 L221.0,406.1 L222.0,405.8 L223.0,405.6 L224.0,405.6 L225.0,405.6 L226.0,405.7 L227.0,406.0 L228.0,406.4 L229.0,406.9 L230.0,407.4 L231.0,408.1 L232.0,408.9 L233.0,409.8 L234.0,410.8 L235.0,411.8 L236.0,413.0 L237.0,414.1 L238.0,415.3 L239.0,416.6 L240.0,417.9 L241.0,419.2 L242.0,420.5 L243.0,421.8 L244.0,423.1 L245.0,424.5 L246.0,425.8 L247.0,427.2 L248.0,428.5 L249.0,429.9 L250.0,431.2 L251.0,432.5 L252.0,433.9 L253.0,435.2 L254.0,436.5 L255.0,437.8 L256.0,439.1 L257.0,440.4 L258.0,441.7 L259.0,442.9 L260.0,444.1 L261.0,445.3 L262.0,446.5 L263.0,447.7 L264.0,448.8 L265.0,449.9 L266.0,451.0 L267.0,452.0 L268.0,453.1 L269.0,454.0 L270.0,455.0 L271.0,455.9 L272.0,456.8 L273.0,457.7 L274.0,458.5 L275.0,459.3 L276.0,460.1 L277.0,460.8 L278.0,461.5 L279.0,462.2 L280.0,462.9 L281.0,463.6 L282.0,464.2 L283.0,464.8 L284.0,465.4 L285.0,465.9 L286.0,466.4 L287.0,467.0 L288.0,467.4 L289.0,467.9 L290.0,468.3 L291.0,468.8 L292.0,469.2 L293.0,469.6 L294.0,469.9 L295.0,470.3 L296.0,470.6 L297.0,470.9 L298.0,471.2 L299.0,471.5 L300.0,471.8 L301.0,472.0 L302.0,472.3 L303.0,472.5 L304.0,472.7 L305.0,472.9 L306.0,473.1 L307.0,473.3 L308.0,473.5 L309.0,473.6 L310.0,473.7 L311.0,473.9 L312.0,474.0 L313.0,474.1 L314.0,474.2 L315.0,474.3 L316.0,474.4 L317.0,474.5 L318.0,474.6 L319.0,474.7 L320.0,474.7 L321.0,474.8 L322.0,474.9 L323.0,474.9 L324.0,475.0 L325.0,475.0 L326.0,475.1 L327.0,475.1 L328.0,475.2 L329.0,475.2 L330.0,475.3 L331.0,475.3 L332.0,475.3 L333.0,475.4 L334.0,475.4 L335.0,475.5 L336.0,475.6 L337.0,475.6 L338.0,475.7 L339.0,475.7 L340.0,475.8 L341.0,475.9 L342.0,476.0 L343.0,476.1 L344.0,476.2 L345.0,476.3 L346.0,476.4 L347.0,476.5 L348.0,476.6 L349.0,476.8 L350.0,476.9 L351.0,477.1 L352.0,477.3 L353.0,477.5 L354.0,477.7 L355.0,477.9 L356.0,478.1 L357.0,478.3 L358.0,478.6 L359.0,478.8 L360.0,479.1 L361.0,479.4 L362.0,479.7 L363.0,480.1 L364.0,480.4" fill="none" stroke="#000" stroke-width="2.3" stroke-linejoin="round"/><rect x="43.9" y="13.1" width="321.1" height="480.7" fill="none" stroke="#000" stroke-width="2.1"/><path d="M59.94,493.5V490.2M76.00,493.5V487.4M92.06,493.5V490.2M108.12,493.5V490.2M124.19,493.5V490.2M140.25,493.5V487.4M156.31,493.5V490.2M172.38,493.5V490.2M188.44,493.5V490.2M204.50,493.5V487.4M220.56,493.5V490.2M236.62,493.5V490.2M252.69,493.5V490.2M268.75,493.5V487.4M284.81,493.5V490.2M300.88,493.5V490.2M316.94,493.5V490.2M333.00,493.5V487.4M349.06,493.5V490.2" stroke="#000" stroke-width="1.8"/><path d="M274,48V194.6 M282,209.6V282 M263,299.2V356.8 M227.4,372.1V441.6" stroke="#000" stroke-width="2.1" fill="none"/><path d="M274,194.6L275,196.6M276.6,200.5L279,203.7M281.2,207.8L282,209.6M282,282L279.2,284M273.4,290L270.2,292.7M265,298L263,299.4M263,356.8L260.5,357.6M255.5,359.9L252.3,361.4M246.6,364L242.8,365.5M237.2,368.1L234,369.6M229,371L227.4,372" stroke="#000" stroke-width="1.8" fill="none"/><text x="65.72" y="521.00" font-family="Liberation Sans, Arial, sans-serif" font-size="18" font-weight="normal" font-style="normal" fill="#000" stroke="#000" stroke-width="0.3" textLength="20.59" lengthAdjust="spacingAndGlyphs">90</text><text x="129.97" y="521.00" font-family="Liberation Sans, Arial, sans-serif" font-size="18" font-weight="normal" font-style="normal" fill="#000" stroke="#000" stroke-width="0.3" textLength="20.59" lengthAdjust="spacingAndGlyphs">88</text><text x="194.22" y="521.00" font-family="Liberation Sans, Arial, sans-serif" font-size="18" font-weight="normal" font-style="normal" fill="#000" stroke="#000" stroke-width="0.3" textLength="20.59" lengthAdjust="spacingAndGlyphs">86</text><text x="258.47" y="521.00" font-family="Liberation Sans, Arial, sans-serif" font-size="18" font-weight="normal" font-style="normal" fill="#000" stroke="#000" stroke-width="0.3" textLength="20.59" lengthAdjust="spacingAndGlyphs">84</text><text x="322.72" y="521.00" font-family="Liberation Sans, Arial, sans-serif" font-size="18" font-weight="normal" font-style="normal" fill="#000" stroke="#000" stroke-width="0.3" textLength="20.59" lengthAdjust="spacingAndGlyphs">82</text><text x="161.38" y="545.00" font-family="Liberation Sans, Arial, sans-serif" font-size="18" font-weight="bold" font-style="normal" fill="#000" stroke="#000" stroke-width="0.3" textLength="86.25" lengthAdjust="spacingAndGlyphs">B. E. / eV</text><text transform="translate(25,321.2) rotate(-90)" x="0" y="0" font-family="Liberation Sans, Arial, sans-serif" font-size="20" font-weight="bold" stroke="#000" stroke-width="0.1" textLength="135.60" lengthAdjust="spacingAndGlyphs">Intensity / a.u.</text><text x="55.03" y="166.00" font-family="Liberation Serif, Times New Roman, serif" font-size="26" font-weight="normal" font-style="italic" fill="#FF6600" stroke="#FF6600" stroke-width="0.6" textLength="11.71" lengthAdjust="spacingAndGlyphs">y</text><text x="73.24" y="164.00" font-family="Liberation Sans, Arial, sans-serif" font-size="21" font-weight="bold" font-style="normal" fill="#000" stroke="#000" stroke-width="0" textLength="15.45" lengthAdjust="spacingAndGlyphs">=</text><text x="96.06" y="166.00" font-family="Liberation Sans, Arial, sans-serif" font-size="26" font-weight="bold" font-style="normal" fill="#FF6600" stroke="#FF6600" stroke-width="0.3" textLength="15.07" lengthAdjust="spacingAndGlyphs">0</text><text x="55.03" y="241.80" font-family="Liberation Serif, Times New Roman, serif" font-size="26" font-weight="normal" font-style="italic" fill="#FF6600" stroke="#FF6600" stroke-width="0.6" textLength="11.71" lengthAdjust="spacingAndGlyphs">y</text><text x="73.24" y="239.80" font-family="Liberation Sans, Arial, sans-serif" font-size="21" font-weight="bold" font-style="normal" fill="#000" stroke="#000" stroke-width="0" textLength="15.45" lengthAdjust="spacingAndGlyphs">=</text><text x="95.96" y="241.80" font-family="Liberation Sans, Arial, sans-serif" font-size="26" font-weight="bold" font-style="normal" fill="#FF6600" stroke="#FF6600" stroke-width="0.3" textLength="37.75" lengthAdjust="spacingAndGlyphs">0.5</text><text x="55.03" y="317.20" font-family="Liberation Serif, Times New Roman, serif" font-size="26" font-weight="normal" font-style="italic" fill="#FF6600" stroke="#FF6600" stroke-width="0.6" textLength="11.71" lengthAdjust="spacingAndGlyphs">y</text><text x="73.24" y="315.20" font-family="Liberation Sans, Arial, sans-serif" font-size="21" font-weight="bold" font-style="normal" fill="#000" stroke="#000" stroke-width="0" textLength="15.45" lengthAdjust="spacingAndGlyphs">=</text><text x="95.80" y="317.20" font-family="Liberation Sans, Arial, sans-serif" font-size="26" font-weight="bold" font-style="normal" fill="#FF6600" stroke="#FF6600" stroke-width="0.3" textLength="14.47" lengthAdjust="spacingAndGlyphs">1</text><text x="55.03" y="392.70" font-family="Liberation Serif, Times New Roman, serif" font-size="26" font-weight="normal" font-style="italic" fill="#FF6600" stroke="#FF6600" stroke-width="0.6" textLength="11.71" lengthAdjust="spacingAndGlyphs">y</text><text x="73.24" y="390.70" font-family="Liberation Sans, Arial, sans-serif" font-size="21" font-weight="bold" font-style="normal" fill="#000" stroke="#000" stroke-width="0" textLength="15.45" lengthAdjust="spacingAndGlyphs">=</text><text x="96.14" y="392.70" font-family="Liberation Sans, Arial, sans-serif" font-size="26" font-weight="bold" font-style="normal" fill="#FF6600" stroke="#FF6600" stroke-width="0.3" textLength="13.91" lengthAdjust="spacingAndGlyphs">8</text><text x="134.40" y="72.60" font-family="Liberation Sans, Arial, sans-serif" font-size="15" font-weight="normal" font-style="normal" fill="#000" stroke="#000" stroke-width="0.3" textLength="35.13" lengthAdjust="spacingAndGlyphs">Au 4f</text><text x="170.39" y="76.20" font-family="Liberation Sans, Arial, sans-serif" font-size="11" font-weight="normal" font-style="normal" fill="#000" stroke="#000" stroke-width="0.3" textLength="15.52" lengthAdjust="spacingAndGlyphs">5/2</text><text x="252.00" y="33.00" font-family="Liberation Sans, Arial, sans-serif" font-size="15" font-weight="normal" font-style="normal" fill="#000" stroke="#000" stroke-width="0.3" textLength="35.13" lengthAdjust="spacingAndGlyphs">Au 4f</text><text x="287.99" y="36.60" font-family="Liberation Sans, Arial, sans-serif" font-size="11" font-weight="normal" font-style="normal" fill="#000" stroke="#000" stroke-width="0.3" textLength="15.52" lengthAdjust="spacingAndGlyphs">7/2</text><text x="216.82" y="62.00" font-family="Liberation Sans, Arial, sans-serif" font-size="15" font-weight="normal" font-style="normal" fill="#000" stroke="#000" stroke-width="0.3" textLength="55.86" lengthAdjust="spacingAndGlyphs">83.8 eV</text><text x="226.82" y="231.00" font-family="Liberation Sans, Arial, sans-serif" font-size="15" font-weight="normal" font-style="normal" fill="#000" stroke="#000" stroke-width="0.3" textLength="55.86" lengthAdjust="spacingAndGlyphs">83.6 eV</text><text x="207.32" y="302.00" font-family="Liberation Sans, Arial, sans-serif" font-size="15" font-weight="normal" font-style="normal" fill="#000" stroke="#000" stroke-width="0.3" textLength="55.86" lengthAdjust="spacingAndGlyphs">84.2 eV</text><text x="169.32" y="385.90" font-family="Liberation Sans, Arial, sans-serif" font-size="15" font-weight="normal" font-style="normal" fill="#000" stroke="#000" stroke-width="0.3" textLength="55.86" lengthAdjust="spacingAndGlyphs">85.3 eV</text></svg>
</body></html>
